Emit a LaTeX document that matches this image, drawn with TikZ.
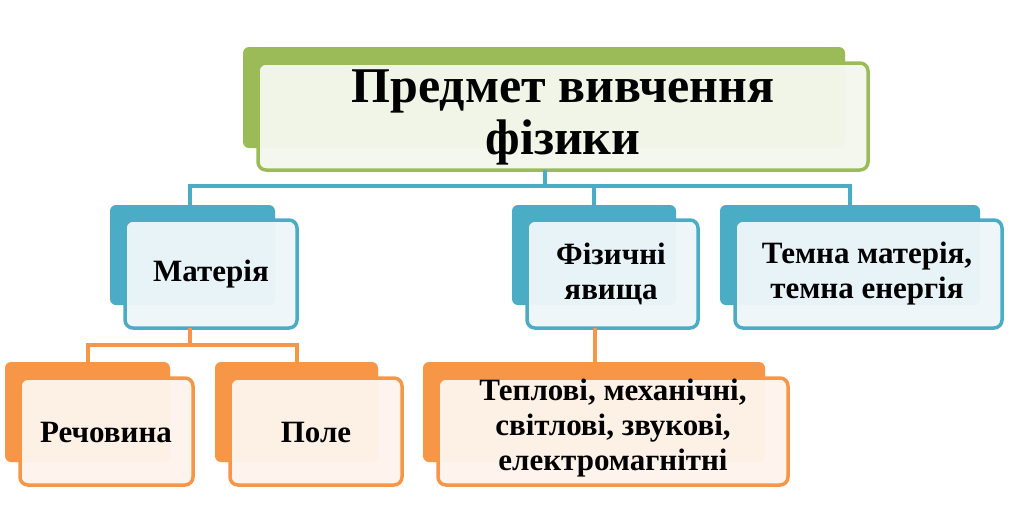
\documentclass[tikz,border=0pt]{standalone}
\usepackage{fontspec}
\setmainfont{Liberation Serif}
\definecolor{gr}{HTML}{9BBB59}\definecolor{grl}{HTML}{F3F7EC}
\definecolor{bl}{HTML}{4BACC6}\definecolor{bll}{HTML}{EDF6F9}
\definecolor{orc}{HTML}{F79646}\definecolor{orl}{HTML}{FEF4EC}
\tikzset{
 back/.style={fill=#1,rounded corners=6pt},
 front/.style={draw=#1,line width=3.5pt,rounded corners=8pt,fill opacity=0.97},
 lbl/.style={align=center,font=\bfseries\fontsize{31}{35}\selectfont},
 conn/.style={draw=#1,line width=3.5pt}
}
\begin{document}
\begin{tikzpicture}[x=1pt,y=-1pt]
\useasboundingbox (0,0) rectangle (1010,531);
% back boxes
\fill[back=gr] (243,47) rectangle (845,148);
\fill[back=bl] (110,205) rectangle (275,305);
\fill[back=bl] (512,205) rectangle (676,305);
\fill[back=bl] (720,205) rectangle (980,305);
\fill[back=orc] (5,362) rectangle (170,462);
\fill[back=orc] (215,362) rectangle (378,462);
\fill[back=orc] (423,362) rectangle (765,462);
% front boxes
\draw[front=gr,fill=grl] (258,63) rectangle (868,170);
\node[lbl,font=\bfseries\fontsize{50}{52}\selectfont] (top) at (563,117) {Предмет вивчення\\фізики};
\draw[front=bl,fill=bll] (125,220) rectangle (297,328);
\node[lbl] (mat) at (211,274) {Матерія};
\draw[front=bl,fill=bll] (527,220) rectangle (698,328);
\node[lbl] (fiz) at (611,274) {Фізичні\\явища};
\draw[front=bl,fill=bll] (735,220) rectangle (1002,328);
\node[lbl] (tem) at (867,274) {Темна матерія,\\темна енергія};
\draw[front=orc,fill=orl] (20,378) rectangle (193,485);
\node[lbl] (rech) at (106,432) {Речовина};
\draw[front=orc,fill=orl] (230,378) rectangle (402,485);
\node[lbl] (pole) at (316,432) {Поле};
\draw[front=orc,fill=orl] (438,378) rectangle (788,485);
\node[lbl] (tep) at (613,428) {Теплові, механічні,\\світлові, звукові,\\електромагнітні};
% connectors
\coordinate (t0) at (545,170);
\draw[conn=bl] (t0) -- (545,186);
\draw[conn=bl] (190,205) -- (190,186) -- (850,186) -- (850,205);
\draw[conn=bl] (594,186) -- (594,205);
\draw[conn=orc] (190,328) -- (190,345);
\draw[conn=orc] (88,362) -- (88,345) -- (297,345) -- (297,362);
\draw[conn=orc] (595,328) -- (595,362);
\end{tikzpicture}
\end{document}
